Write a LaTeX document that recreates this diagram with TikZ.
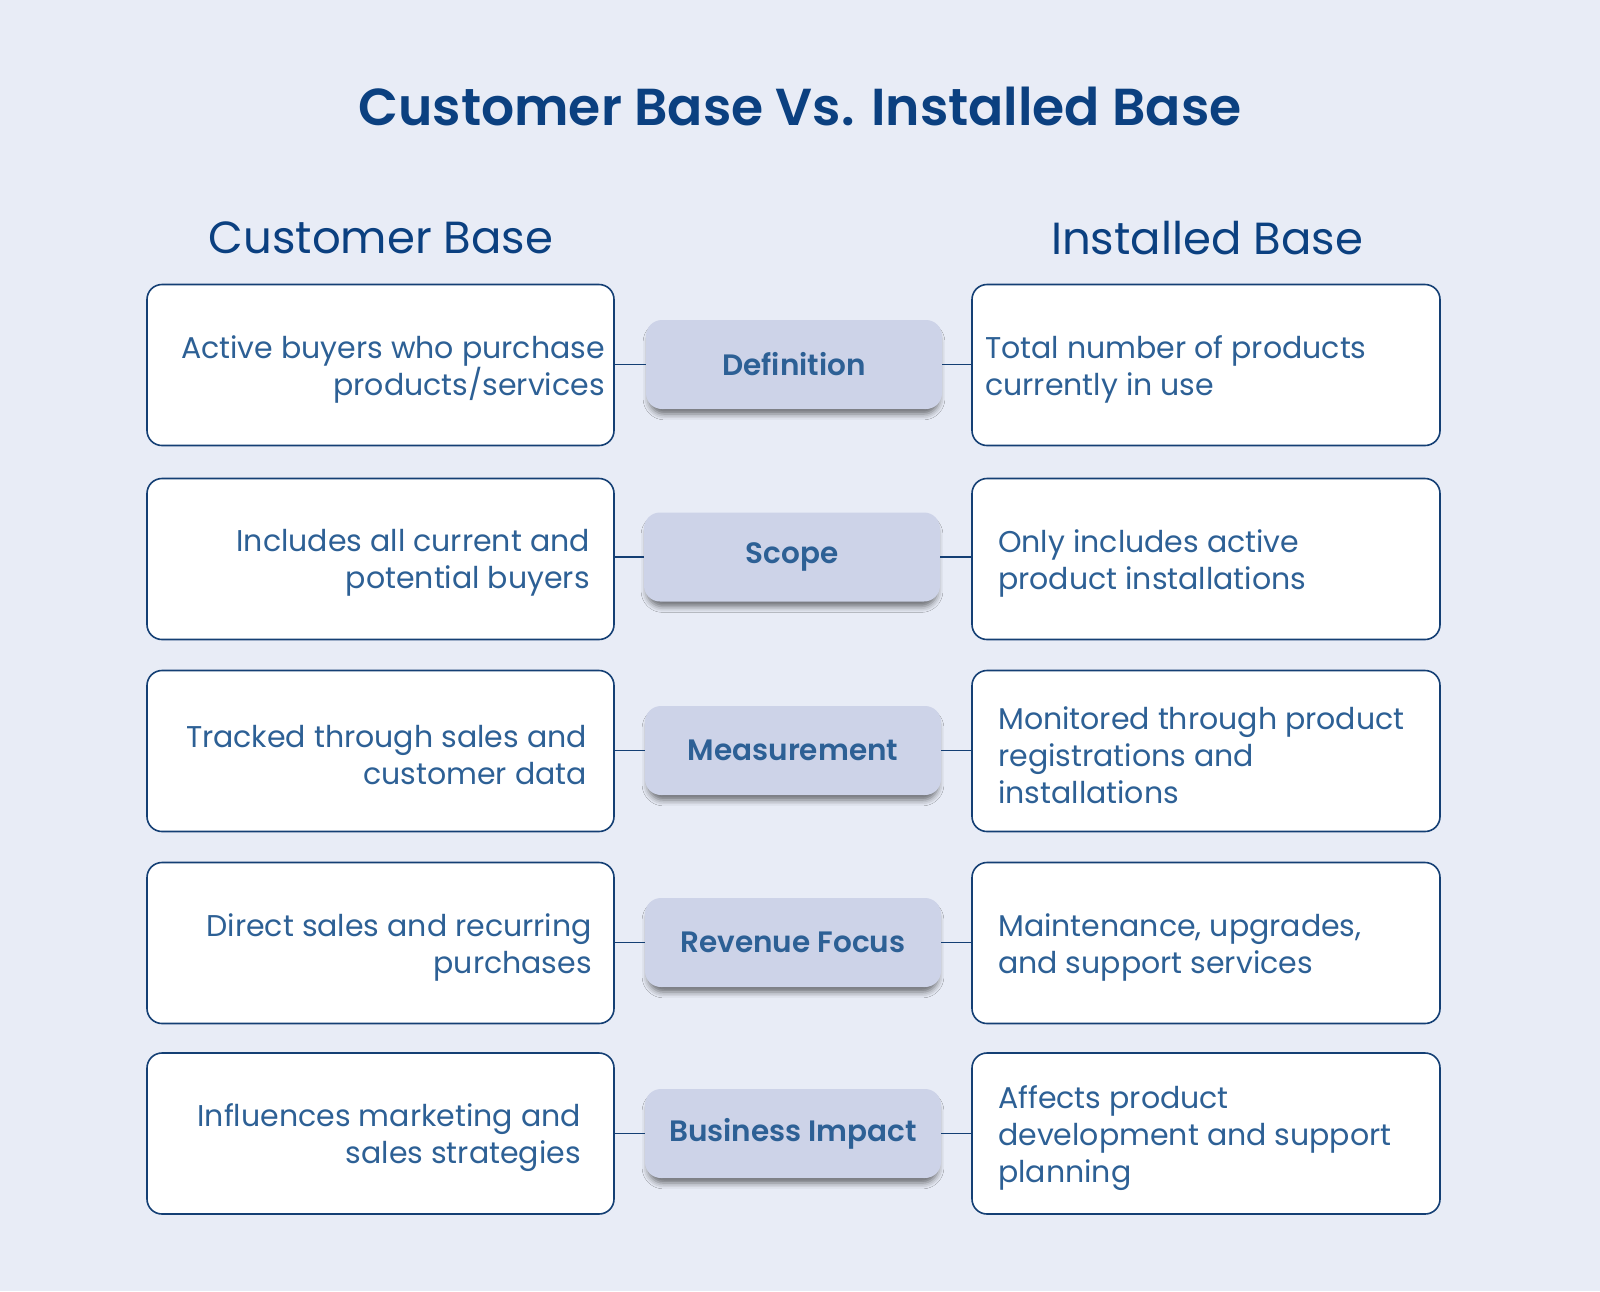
\documentclass[tikz,border=0pt]{standalone}
\usepackage{fontspec}
\setmainfont{Poppins}
\newfontfamily\semib{Poppins}[UprightFont=* SemiBold]
\usetikzlibrary{shadows.blur}
\definecolor{bg}{HTML}{E8ECF6}
\definecolor{navy}{HTML}{0B4080}
\definecolor{border}{HTML}{143F74}
\definecolor{txt}{HTML}{2D6095}
\definecolor{midfill}{HTML}{CDD3E8}
\tikzset{
  sidebox/.style={draw=border, line width=1.6pt, fill=white, rounded corners=15pt,
    minimum height=161pt, inner sep=0pt},
  leftbox/.style={sidebox, minimum width=467pt},
  rightbox/.style={sidebox, minimum width=468pt},
  midbox/.style={fill=midfill, rounded corners=16pt, minimum width=296pt, minimum height=89pt,
    inner sep=0pt, text=txt, font=\fontsize{29.5}{34}\selectfont\semib,
    blur shadow={shadow xshift=0pt, shadow yshift=-6pt, shadow blur radius=6pt, shadow scale=0.98, shadow opacity=55}},
  ltext/.style={anchor=east, align=right, text=txt, inner sep=0pt, font=\fontsize{30}{37}\selectfont},
  rtext/.style={anchor=west, align=left, text=txt, inner sep=0pt, font=\fontsize{30}{37}\selectfont},
  link/.style={draw=border, line width=1.6pt},
  header/.style={text=navy, font=\fontsize{45}{50}\selectfont},
}
\begin{document}
\begin{tikzpicture}[x=1pt, y=-1pt]
\fill[bg] (0,0) rectangle (1600,1291);
\useasboundingbox (0,0) rectangle (1600,1291);

\node[text=navy, font=\fontsize{52}{60}\selectfont\semib] (title) at (800,106) {Customer Base Vs. Installed Base};
\node[header] (hleft) at (381,238) {Customer Base};
\node[header] (hright) at (1207,238) {Installed Base};

% row 1
\node[leftbox] (l1) at (380.5,365) {};
\node[rightbox] (r1) at (1206,365) {};
\node[midbox] (m1) at (794,364.5) {Definition};
\node[ltext] (lt1) at (605,369) {Active buyers who purchase\\products/services};
\node[rtext] (rt1) at (985,369) {Total number of products\\currently in use};
\draw[link] (l1.east |- m1) -- (m1.west);
\draw[link] (m1.east) -- (r1.west |- m1);

% row 2
\node[leftbox] (l2) at (380.5,559) {};
\node[rightbox] (r2) at (1206,559) {};
\node[midbox] (m2) at (792,557) {Scope};
\node[ltext] (lt2) at (590,563) {Includes all current and\\potential buyers};
\node[rtext] (rt2) at (998,563) {Only includes active\\product installations};
\draw[link] (l2.east |- m2) -- (m2.west);
\draw[link] (m2.east) -- (r2.west |- m2);

% row 3
\node[leftbox] (l3) at (380.5,751) {};
\node[rightbox] (r3) at (1206,751) {};
\node[midbox] (m3) at (793,750.5) {Measurement};
\node[ltext] (lt3) at (587,755) {Tracked through sales and\\customer data};
\node[rtext] (rt3) at (998,755) {Monitored through product\\registrations and\\installations};
\draw[link] (l3.east |- m3) -- (m3.west);
\draw[link] (m3.east) -- (r3.west |- m3);

% row 4
\node[leftbox] (l4) at (380.5,943) {};
\node[rightbox] (r4) at (1206,943) {};
\node[midbox] (m4) at (793,942.5) {Revenue Focus};
\node[ltext] (lt4) at (592,947) {Direct sales and recurring\\purchases};
\node[rtext] (rt4) at (998,947) {Maintenance, upgrades,\\and support services};
\draw[link] (l4.east |- m4) -- (m4.west);
\draw[link] (m4.east) -- (r4.west |- m4);

% row 5
\node[leftbox] (l5) at (380.5,1133.5) {};
\node[rightbox] (r5) at (1206,1133.5) {};
\node[midbox] (m5) at (793,1133.5) {Business Impact};
\node[ltext] (lt5) at (581,1138) {Influences marketing and\\sales strategies};
\node[rtext] (rt5) at (998,1138) {Affects product\\development and support\\planning};
\draw[link] (l5.east |- m5) -- (m5.west);
\draw[link] (m5.east) -- (r5.west |- m5);
\end{tikzpicture}
\end{document}
